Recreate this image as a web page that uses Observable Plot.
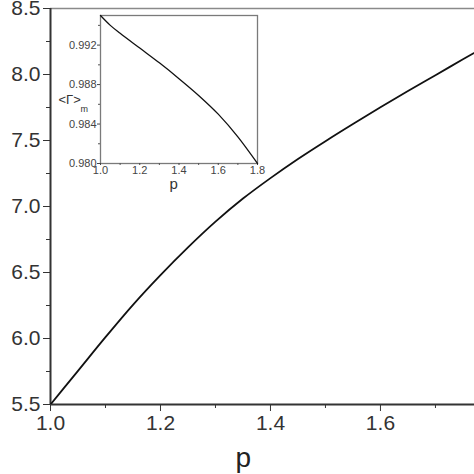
<!DOCTYPE html>
<html><head><meta charset="utf-8">
<script src="https://cdn.jsdelivr.net/npm/d3@7"></script>
<script src="https://cdn.jsdelivr.net/npm/@observablehq/plot@0.6"></script>
<style>
body{margin:0;background:#fff}
#wrap{position:relative;width:474px;height:474px;overflow:hidden}
#wrap > svg{position:absolute;left:0;top:0}
#inset{position:absolute;left:40px;top:5px}
</style>
</head><body><div id="wrap"><div id="inset"></div></div><script>
// Main curve
const mainP = [1.0, 1.05, 1.1, 1.15, 1.2, 1.25, 1.3, 1.35, 1.4, 1.45, 1.5, 1.55, 1.6, 1.65, 1.7, 1.75, 1.8];
const mainV = [5.5, 5.755, 6.01, 6.255, 6.48, 6.69, 6.885, 7.06, 7.215, 7.36, 7.495, 7.625, 7.752, 7.875, 7.995, 8.115, 8.235];
const mainXTicks = [1.0, 1.2, 1.4, 1.6];
const mainXMinor = [1.1, 1.3, 1.5, 1.7];
const mainYTicks = [5.5, 6.0, 6.5, 7.0, 7.5, 8.0, 8.5];
const mainYMinor = [5.75, 6.25, 6.75, 7.25, 7.75, 8.25];

// Inset curve
const insetP = [1.0, 1.05, 1.1, 1.2, 1.3, 1.4, 1.5, 1.6, 1.7, 1.8];
const insetG = [0.9950, 0.9940, 0.9932, 0.9917, 0.9902, 0.9886, 0.9869, 0.9850, 0.9827, 0.9800];
const insetXTicks = [1.0, 1.2, 1.4, 1.6, 1.8];
const insetXMinor = [1.1, 1.3, 1.5, 1.7];
const insetYTicks = [0.980, 0.984, 0.988, 0.992];
const insetYMinor = [0.982, 0.986, 0.990, 0.994];

const mainData = mainP.map((p, i) => ({p, v: mainV[i]}));
const insetData = insetP.map((p, i) => ({p, g: insetG[i]}));

const main = Plot.plot({
  width: 474, height: 474,
  marginTop: 8, marginBottom: 70, marginLeft: 50, marginRight: 0,
  style: {fontFamily: "'Liberation Sans', Arial, sans-serif", background: "transparent", overflow: "visible"},
  x: {domain: [1, 1.771]},
  y: {domain: [5.5, 8.5]},
  marks: [
    Plot.ruleY([8.5], {stroke: "#8a8a8a", strokeWidth: 1.5}),
    Plot.axisY(mainYTicks, {tickSize: 7, tickPadding: 3, fontSize: 21, color: "#333", label: null, tickFormat: d => d.toFixed(1)}),
    Plot.axisY(mainYMinor, {tickSize: 4, tickFormat: () => "", color: "#333", label: null}),
    Plot.axisX(mainXTicks, {tickSize: 7, tickPadding: 4, fontSize: 21, color: "#333", label: null, tickFormat: d => d.toFixed(1)}),
    Plot.axisX(mainXMinor, {tickSize: 4, tickFormat: () => "", color: "#333", label: null}),
    Plot.ruleX([1], {stroke: "#333", strokeWidth: 2}),
    Plot.ruleY([5.5], {stroke: "#333", strokeWidth: 2}),
    Plot.line(mainData, {x: "p", y: "v", stroke: "#111", strokeWidth: 1.8, clip: true, curve: "monotone-x"}),
    Plot.text(["p"], {text: d => d, frameAnchor: "bottom-left", dx: 185, dy: 62, fontSize: 28, fill: "#222"})
  ]
});
document.getElementById("wrap").prepend(main);

const inset = Plot.plot({
  width: 229, height: 193,
  marginTop: 10, marginLeft: 60, marginRight: 12, marginBottom: 35,
  style: {fontFamily: "'Liberation Sans Narrow', 'Liberation Sans', Arial, sans-serif", background: "transparent", overflow: "visible"},
  x: {domain: [1, 1.8]},
  y: {domain: [0.980, 0.995]},
  marks: [
    Plot.frame({stroke: "#7a7a7a", strokeWidth: 1.3}),
    Plot.axisY(insetYTicks, {tickSize: 3, tickPadding: 1, fontSize: 11, color: "#444", label: null, tickFormat: d => d.toFixed(3)}),
    Plot.axisY(insetYMinor, {tickSize: 2, tickFormat: () => "", color: "#555", label: null}),
    Plot.axisX(insetXTicks, {tickSize: 2, tickPadding: 1, fontSize: 11, color: "#444", label: null, tickFormat: d => d.toFixed(1)}),
    Plot.axisX(insetXMinor, {tickSize: 2, tickFormat: () => "", color: "#555", label: null}),
    Plot.line(insetData, {x: "p", y: "g", stroke: "#111", strokeWidth: 1.3, curve: "monotone-x"}),
    Plot.text(["<Γ>"], {text: d => d, frameAnchor: "left", textAnchor: "start", dx: -42, dy: 10, fontSize: 13, fill: "#333"}),
    Plot.text(["m"], {text: d => d, frameAnchor: "left", textAnchor: "start", dx: -20, dy: 20, fontSize: 9, fill: "#333"}),
    Plot.text(["p"], {text: d => d, frameAnchor: "bottom-left", dx: 69, dy: 25, fontSize: 15, fill: "#333"})
  ]
});
document.getElementById("inset").append(inset);
</script></body></html>
